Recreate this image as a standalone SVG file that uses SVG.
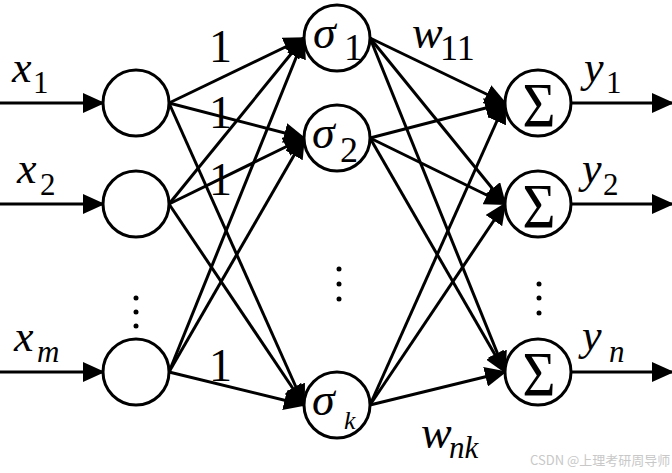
<svg xmlns="http://www.w3.org/2000/svg" width="672" height="473" viewBox="0 0 672 473">
<style>
.node{fill:#fff;stroke:#000;stroke-width:3}
.edge{stroke:#000;stroke-width:3;fill:none;marker-end:url(#ah)}
.io{stroke:#000;stroke-width:3;fill:none;marker-end:url(#ah)}
.v{font-family:'Liberation Serif','Times New Roman',serif;font-style:italic;fill:#000}
.s{font-family:'Liberation Serif','Times New Roman',serif;font-style:normal;fill:#000}
.dot{fill:#000}
.wm{font-family:'Noto Sans CJK SC','Noto Sans',sans-serif;font-size:13px;fill:#c8c8c8}
</style>
<defs>
<marker id="ah" viewBox="0 0 22 20" refX="20" refY="10" markerWidth="22" markerHeight="20" markerUnits="userSpaceOnUse" orient="auto">
<path d="M0,0 L22,10 L0,20 z" fill="#000"/>
</marker>
</defs>
<g id="connectors">
<line class="io" x1="0" y1="103" x2="103" y2="103"/>
<line class="io" x1="0" y1="204" x2="103" y2="204"/>
<line class="io" x1="0" y1="372" x2="103" y2="372"/>
<line class="edge" x1="169" y1="103" x2="304" y2="38"/>
<line class="edge" x1="169" y1="103" x2="304" y2="138"/>
<line class="edge" x1="169" y1="103" x2="304" y2="405"/>
<line class="edge" x1="169" y1="204" x2="304" y2="38"/>
<line class="edge" x1="169" y1="204" x2="304" y2="138"/>
<line class="edge" x1="169" y1="204" x2="304" y2="405"/>
<line class="edge" x1="169" y1="372" x2="304" y2="38"/>
<line class="edge" x1="169" y1="372" x2="304" y2="138"/>
<line class="edge" x1="169" y1="372" x2="304" y2="405"/>
<line class="edge" x1="370" y1="38" x2="505" y2="103"/>
<line class="edge" x1="370" y1="38" x2="505" y2="204"/>
<line class="edge" x1="370" y1="38" x2="505" y2="372"/>
<line class="edge" x1="370" y1="138" x2="505" y2="103"/>
<line class="edge" x1="370" y1="138" x2="505" y2="204"/>
<line class="edge" x1="370" y1="138" x2="505" y2="372"/>
<line class="edge" x1="370" y1="405" x2="505" y2="103"/>
<line class="edge" x1="370" y1="405" x2="505" y2="204"/>
<line class="edge" x1="370" y1="405" x2="505" y2="372"/>
<line class="io" x1="571" y1="103" x2="672" y2="103"/>
<line class="io" x1="571" y1="204" x2="672" y2="204"/>
<line class="io" x1="571" y1="372" x2="672" y2="372"/>
</g>
<g id="in1"><circle class="node" cx="136" cy="103" r="33"/></g>
<g id="in2"><circle class="node" cx="136" cy="204" r="33"/></g>
<g id="inm"><circle class="node" cx="136" cy="372" r="33"/></g>
<g id="h1"><circle class="node" cx="337" cy="38" r="33"/>
<text class="v" x="313" y="48" font-size="46">σ</text><text class="s" x="344" y="60" font-size="38">1</text></g>
<g id="h2"><circle class="node" cx="337" cy="138" r="33"/>
<text class="v" x="312" y="148" font-size="46">σ</text><text class="s" x="340" y="162" font-size="36">2</text></g>
<g id="hk"><circle class="node" cx="337" cy="405" r="33"/>
<text class="v" x="312" y="415" font-size="46">σ</text><text class="v" x="344" y="429" font-size="26">k</text></g>
<g id="o1"><circle class="node" cx="538" cy="103" r="33"/>
<text class="s" transform="translate(539,127) scale(0.9,1)" text-anchor="middle" font-size="63">Σ</text></g>
<g id="o2"><circle class="node" cx="538" cy="204" r="33"/>
<text class="s" transform="translate(539,228) scale(0.9,1)" text-anchor="middle" font-size="63">Σ</text></g>
<g id="on"><circle class="node" cx="538" cy="372" r="33"/>
<text class="s" transform="translate(539,396) scale(0.9,1)" text-anchor="middle" font-size="63">Σ</text></g>
<g id="labels">
<text class="v" x="12" y="82" font-size="44">x</text><text class="s" x="33" y="93" font-size="31">1</text>
<text class="v" x="17" y="183" font-size="44">x</text><text class="s" x="40" y="195" font-size="31">2</text>
<text class="v" x="14" y="351" font-size="44">x</text><text class="v" x="37" y="362" font-size="31">m</text>
<text class="v" x="584" y="82" font-size="44">y</text><text class="s" x="606" y="93" font-size="31">1</text>
<text class="v" x="582" y="183" font-size="44">y</text><text class="s" x="603" y="195" font-size="31">2</text>
<text class="v" x="582" y="350" font-size="44">y</text><text class="v" x="609" y="362" font-size="31">n</text>
<text class="v" x="412" y="48" font-size="46">w</text><text class="s" x="440" y="60" font-size="36">11</text>
<text class="v" x="421" y="448" font-size="46">w</text><text class="v" x="449" y="458" font-size="31">nk</text>
<text class="s" x="209" y="62" font-size="46">1</text>
<text class="s" x="209" y="128" font-size="46">1</text>
<text class="s" x="209" y="195" font-size="46">1</text>
<text class="s" x="209" y="381" font-size="46">1</text>
</g>
<g id="dots">
<circle class="dot" cx="136" cy="298" r="2.5"/><circle class="dot" cx="136" cy="312" r="2.5"/><circle class="dot" cx="136" cy="326" r="2.5"/>
<circle class="dot" cx="339" cy="269" r="2.5"/><circle class="dot" cx="339" cy="284" r="2.5"/><circle class="dot" cx="339" cy="299" r="2.5"/>
<circle class="dot" cx="539" cy="284" r="2.5"/><circle class="dot" cx="539" cy="298" r="2.5"/><circle class="dot" cx="539" cy="313" r="2.5"/>
</g>
<text class="wm" x="530" y="465">CSDN @上理考研周导师</text>
</svg>
